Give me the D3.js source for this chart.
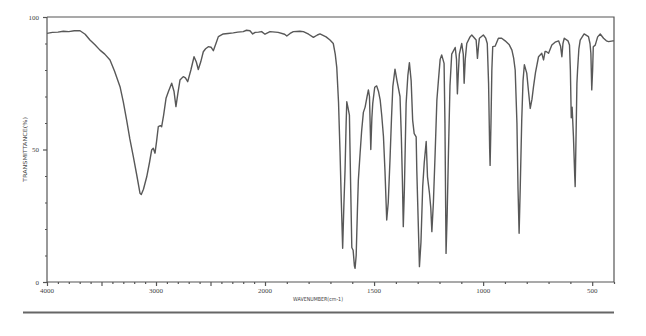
<!DOCTYPE html>
<html>
<head>
<meta charset="utf-8">
<script src="https://cdn.jsdelivr.net/npm/d3@7"></script>
<style>
  body { margin: 0; background: #fff; }
  svg { display: block; }
  .tick-label { font-family: "Liberation Serif", serif; font-size: 7px; fill: #444; }
  .axis-title { font-family: "DejaVu Sans", sans-serif; font-size: 5.5px; fill: #444; }
</style>
</head>
<body>
<div class="chart-wrapper"></div>
<script>
// spectrum (wavenumber in cm-1, transmittance in %)
const wavenumbers = [
  4000, 3950, 3900, 3850, 3800, 3750, 3697, 3650, 3606, 3560, 3514, 3470, 3422, 3380, 3330, 3300,
  3269, 3240, 3208, 3175, 3147, 3135, 3115, 3085, 3060, 3040, 3025, 3009, 2995, 2979, 2960, 2948,
  2930, 2908, 2885, 2856, 2835, 2817, 2800, 2780, 2750, 2730, 2709, 2680, 2651, 2630, 2612, 2590,
  2566, 2545, 2520, 2495, 2474, 2450, 2428, 2383, 2340, 2291, 2250, 2200, 2170, 2138, 2113, 2090,
  2060, 2031, 2000, 1977, 1940, 1910, 1900, 1885, 1870, 1840, 1824, 1800, 1778, 1760, 1748, 1720,
  1702, 1687, 1678, 1671, 1663, 1656, 1650, 1644, 1638, 1633, 1628, 1625, 1620, 1613, 1607, 1602,
  1596, 1590, 1587, 1582, 1576, 1572, 1564, 1557, 1549, 1541, 1532, 1526, 1521, 1515, 1510, 1506,
  1497, 1488, 1480, 1472, 1465, 1457, 1450, 1442, 1435, 1427, 1420, 1414, 1404, 1395, 1381, 1375,
  1370, 1366, 1361, 1353, 1345, 1338, 1330, 1323, 1316, 1307, 1304, 1300, 1292, 1285, 1277, 1270,
  1261, 1255, 1246, 1240, 1235, 1228, 1220, 1212, 1205, 1197, 1190, 1179, 1175, 1170, 1165, 1159,
  1152, 1144, 1128, 1122, 1118, 1113, 1109, 1098, 1091, 1087, 1082, 1075, 1060, 1052, 1032, 1026,
  1020, 1017, 999, 988, 981, 975, 970, 968, 964, 960, 956, 945, 930, 915, 899, 880,
  868, 860, 853, 845, 840, 835, 830, 823, 817, 811, 800, 792, 784, 776, 769, 760,
  746, 731, 723, 716, 711, 700, 685, 670, 654, 645, 639, 634, 628, 611, 604, 600,
  596, 592, 586, 580, 578, 574, 570, 567, 561, 555, 537, 517, 510, 506, 502, 498,
  495, 486, 475, 463, 448, 435, 425, 405, 400
];
const transmittance = [
  93.8, 94.2, 94.3, 94.6, 94.5, 94.8, 94.8, 93.5, 91.3, 89.5, 87.5, 86, 83.8, 79.5, 73.7, 68,
  61, 54, 47.3, 40, 33.5, 33, 35, 39.7, 45, 49.8, 50.5, 48.6, 53, 58.6, 59, 58.6,
  63, 69.3, 72, 75, 72, 66.2, 71, 76.2, 77.5, 77, 75.6, 80, 85, 83, 80.2, 83,
  86.9, 88, 88.8, 88.6, 87.3, 90, 92.6, 93.6, 93.8, 94, 94.3, 94.5, 95, 94.8, 93.6, 94.2,
  94.3, 94.5, 93.5, 94.5, 94.2, 93.5, 92.8, 93.8, 94.5, 94.6, 94.5, 93.5, 92.3, 93.2, 93.6, 92.5,
  91.3, 90, 86, 81, 68, 49, 30, 12.7, 30, 42.3, 60, 68, 66, 63, 35, 13,
  12, 6, 5.2, 10, 28, 38.5, 48.6, 57, 64, 66, 70, 72.5, 70, 50, 62, 67.4,
  73.5, 74, 72, 68.7, 63, 55, 42, 23.4, 30, 46, 62, 73.7, 80.3, 76, 70, 55,
  38, 20.9, 35, 67.4, 78, 82.8, 76, 61, 56, 54.8, 42, 30, 5.8, 15, 36, 45,
  53, 39.7, 33.5, 28, 19, 30, 48.6, 68.7, 76, 84, 85.7, 82.5, 60, 10.8, 25, 48.6,
  74, 86, 88.5, 84, 71, 80, 86, 90, 86, 75, 84, 90, 92.5, 93.2, 91.3, 84.4,
  90, 92, 93.2, 92, 90, 75, 50, 44, 60, 80, 88.8, 89, 92, 92, 91, 89.5,
  87.5, 84.5, 80, 60, 35, 18.4, 35, 61, 76, 82, 78.8, 72, 65.5, 69, 73.7, 79,
  85, 86.3, 83.8, 87, 87, 86.3, 89.4, 90.5, 91, 89, 85, 90, 92, 91, 89.4, 80,
  62, 66, 55, 40, 36, 55, 75, 80, 88, 91.3, 93.6, 92.6, 90, 86.3, 72.5, 80,
  88.8, 89.4, 92.5, 93.6, 92, 91, 90.7, 91, 91
];
const xLabelValues = [4000, 3000, 2000, 1500, 1000, 500];
const yLabelValues = [0, 50, 100];
const yTitle = 'TRANSMITTANCE(%)';
const xTitle = 'WAVENUMBER(cm-1)';

const width = 646, height = 336;

// instrument charts use double scale below 2000 cm-1
const x = d3.scaleLinear()
  .domain([4000, 2000, 400])
  .range([47, 265, 614]);
const y = d3.scaleLinear()
  .domain([0, 100])
  .range([282, 17]);

const svg = d3.select('.chart-wrapper')
  .append('svg')
  .attr('width', width)
  .attr('height', height);

const axisColor = '#555';

// frame: top and right edges
svg.append('path')
  .attr('d', `M${x(4000)},${y(100)}H${x(400)}V${y(0)}`)
  .attr('fill', 'none')
  .attr('stroke', axisColor)
  .attr('stroke-width', 1.2);

// x ticks every 100 cm-1
const xTicks = d3.range(4000, 399, -100);
const xAxis = svg.append('g')
  .attr('transform', `translate(0,${y(0)})`)
  .call(d3.axisBottom(x)
    .tickValues(xTicks)
    .tickSize(2)
    .tickFormat(''));
xAxis.selectAll('.tick line')
  .attr('y2', d => (xLabelValues.includes(d) || d === 3500 || d === 2500) ? 4 : 2);
xAxis.selectAll('path, line').attr('stroke', axisColor).attr('stroke-width', 1.2);
xAxis.select('.domain').attr('d', `M${x(4000)},0H${x(400)}`);

svg.selectAll('.xlab')
  .data(xLabelValues)
  .join('text')
  .attr('class', 'tick-label')
  .attr('x', d => x(d))
  .attr('y', y(0) + 11)
  .attr('text-anchor', 'middle')
  .text(d => d);

// y ticks every 10 %
const yAxis = svg.append('g')
  .attr('transform', `translate(${x(4000)},0)`)
  .call(d3.axisLeft(y)
    .tickValues(d3.range(0, 101, 10))
    .tickSize(2)
    .tickFormat(''));
yAxis.selectAll('.tick line').attr('x2', d => yLabelValues.includes(d) ? -4 : -2);
yAxis.selectAll('path, line').attr('stroke', axisColor).attr('stroke-width', 1.2);
yAxis.select('.domain').attr('d', `M0,${y(0)}V${y(100)}`);

svg.selectAll('.ylab')
  .data(yLabelValues)
  .join('text')
  .attr('class', 'tick-label')
  .attr('x', x(4000) - 8)
  .attr('y', d => y(d) + 2.5)
  .attr('text-anchor', 'end')
  .text(d => d);

// axis titles
svg.append('text')
  .attr('class', 'axis-title')
  .attr('transform', `translate(27,${y(50)}) rotate(-90)`)
  .attr('text-anchor', 'middle')
  .attr('textLength', 65)
  .attr('lengthAdjust', 'spacingAndGlyphs')
  .text(yTitle);

svg.append('text')
  .attr('class', 'axis-title')
  .attr('x', 318)
  .attr('y', 301)
  .attr('text-anchor', 'middle')
  .attr('textLength', 50)
  .attr('lengthAdjust', 'spacingAndGlyphs')
  .text(xTitle);

// rule under the chart
svg.append('line')
  .attr('x1', 23).attr('x2', 614)
  .attr('y1', 312.5).attr('y2', 312.5)
  .attr('stroke', '#666')
  .attr('stroke-width', 2);

// spectrum
const points = wavenumbers.map((w, i) => [w, transmittance[i]]);
svg.append('path')
  .datum(points)
  .attr('fill', 'none')
  .attr('stroke', '#585858')
  .attr('stroke-width', 1.4)
  .attr('stroke-linejoin', 'round')
  .attr('d', d3.line()
    .x(d => x(d[0]))
    .y(d => y(d[1])));
</script>
</body>
</html>
